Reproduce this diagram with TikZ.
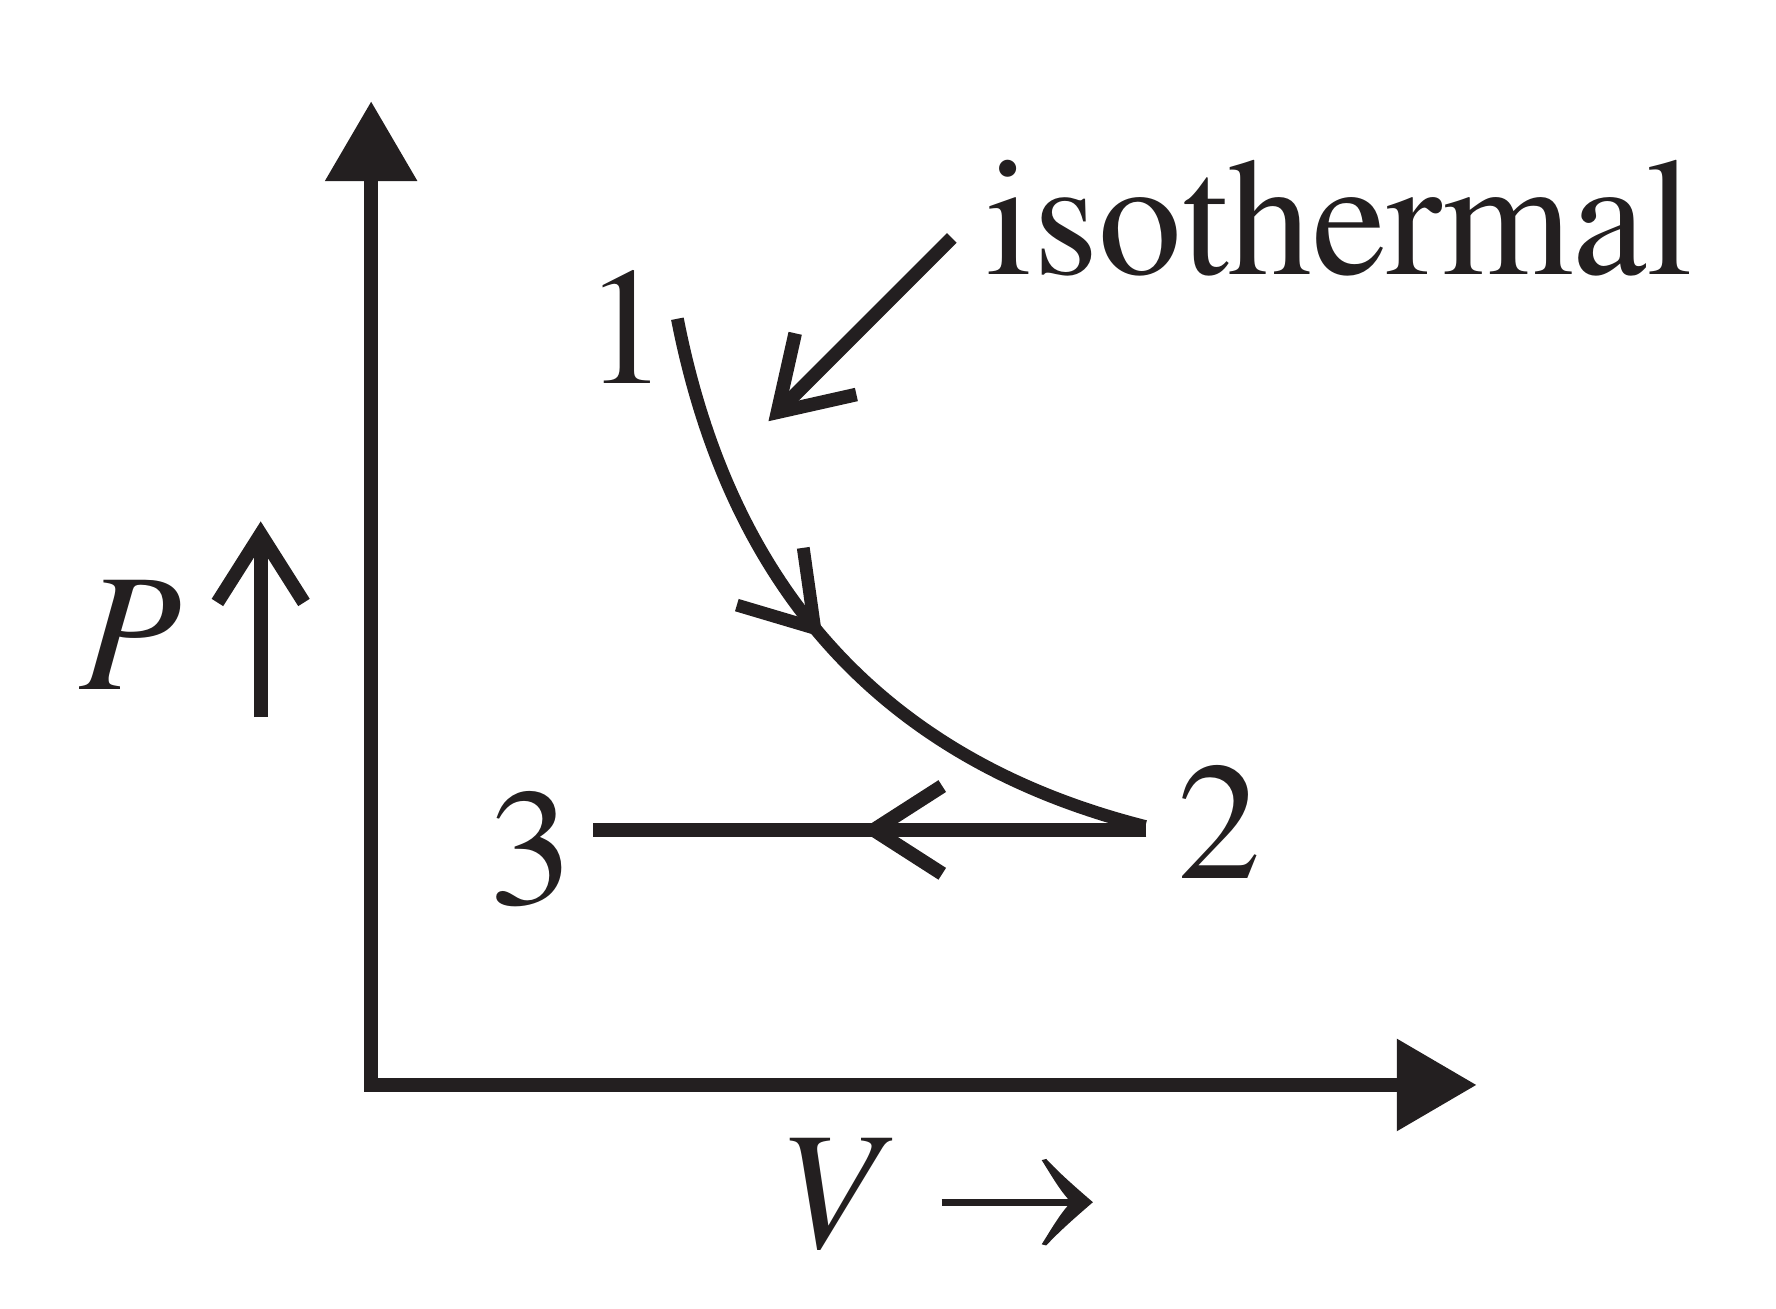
\documentclass[tikz,border=0pt]{standalone}
\usepackage[T1]{fontenc}
\renewcommand{\rmdefault}{ptm}
\usetikzlibrary{arrows.meta,decorations.markings}
\definecolor{ink}{RGB}{35,31,32}
\tikzset{
  lbl/.style={inner sep=0pt,text=ink,font=\fontsize{41.8}{50}\selectfont},
  axis/.style={draw=ink,line width=3.4pt,line join=miter,
    {Triangle[length=0.7cm,width=0.78cm,fill=ink]}-{Triangle[length=0.7cm,width=0.78cm,fill=ink]}},
  pointer/.style={draw=ink,line width=3.4pt,-{Straight Barb[length=0.6cm,width=0.76cm]}},
  midbarb/.style={postaction={decorate},decoration={markings,
    mark=at position #1 with {\arrow{Straight Barb[length=0.6cm,width=0.77cm]}}}}
}
\begin{document}
\begin{tikzpicture}[x=0.01cm,y=-0.01cm]
  \useasboundingbox (0,0) rectangle (1560,1149);
  \draw
    (550,287) node[lbl] (n1){1}
    (1071,722) node[lbl] (n2){2}
    (467,745) node[lbl] (n3){3}
    (1177,192) node[lbl] (iso){isothermal}
    (115,558) node[lbl] (p){\itshape P}
    (728,1049) node[lbl] (v){\itshape V};
  \coordinate (ytip) at (326,89);
  \coordinate (o) at (326,953);
  \coordinate (xtip) at (1297,953);
  \coordinate (c1) at (595,280);
  \coordinate (c2) at (1006,726);
  \coordinate (h2) at (1007,729);
  \coordinate (h3) at (521,729);
  \coordinate (a1) at (836,209);
  \coordinate (a2) at (675,370);
  \coordinate (pb) at (229,630);
  \coordinate (pt) at (229,458);
  \coordinate (vb) at (827,1056);
  \coordinate (vt) at (960,1056);
  % axes
  \draw[axis] (ytip) -- (o) -- (xtip);
  % process lines
  \begin{scope}[ink,line width=3.2pt]
    \draw[midbarb=0.482] (c1) .. controls (645,535) and (793,672) .. (c2);
    \draw[line width=3.5pt,midbarb=0.516] (h2) -- (h3);
  \end{scope}
  % pointers
  \draw[pointer] (a1) -- (a2);
  \draw[pointer] (pb) -- (pt);
  \draw[ink,line width=1.8pt] (vb) -- ([xshift=-0.2cm]vt);
  \begin{scope}[shift={(vt)}]
    \fill[ink] (0,0) .. controls (-14,-12) and (-30,-26) .. (-41,-38) -- (-45,-37)
      .. controls (-38,-26) and (-30,-12) .. (-22,-3) -- (-22,3)
      .. controls (-30,12) and (-38,26) .. (-45,37) -- (-41,38)
      .. controls (-30,26) and (-14,12) .. (0,0) -- cycle;
  \end{scope}
\end{tikzpicture}
\end{document}
